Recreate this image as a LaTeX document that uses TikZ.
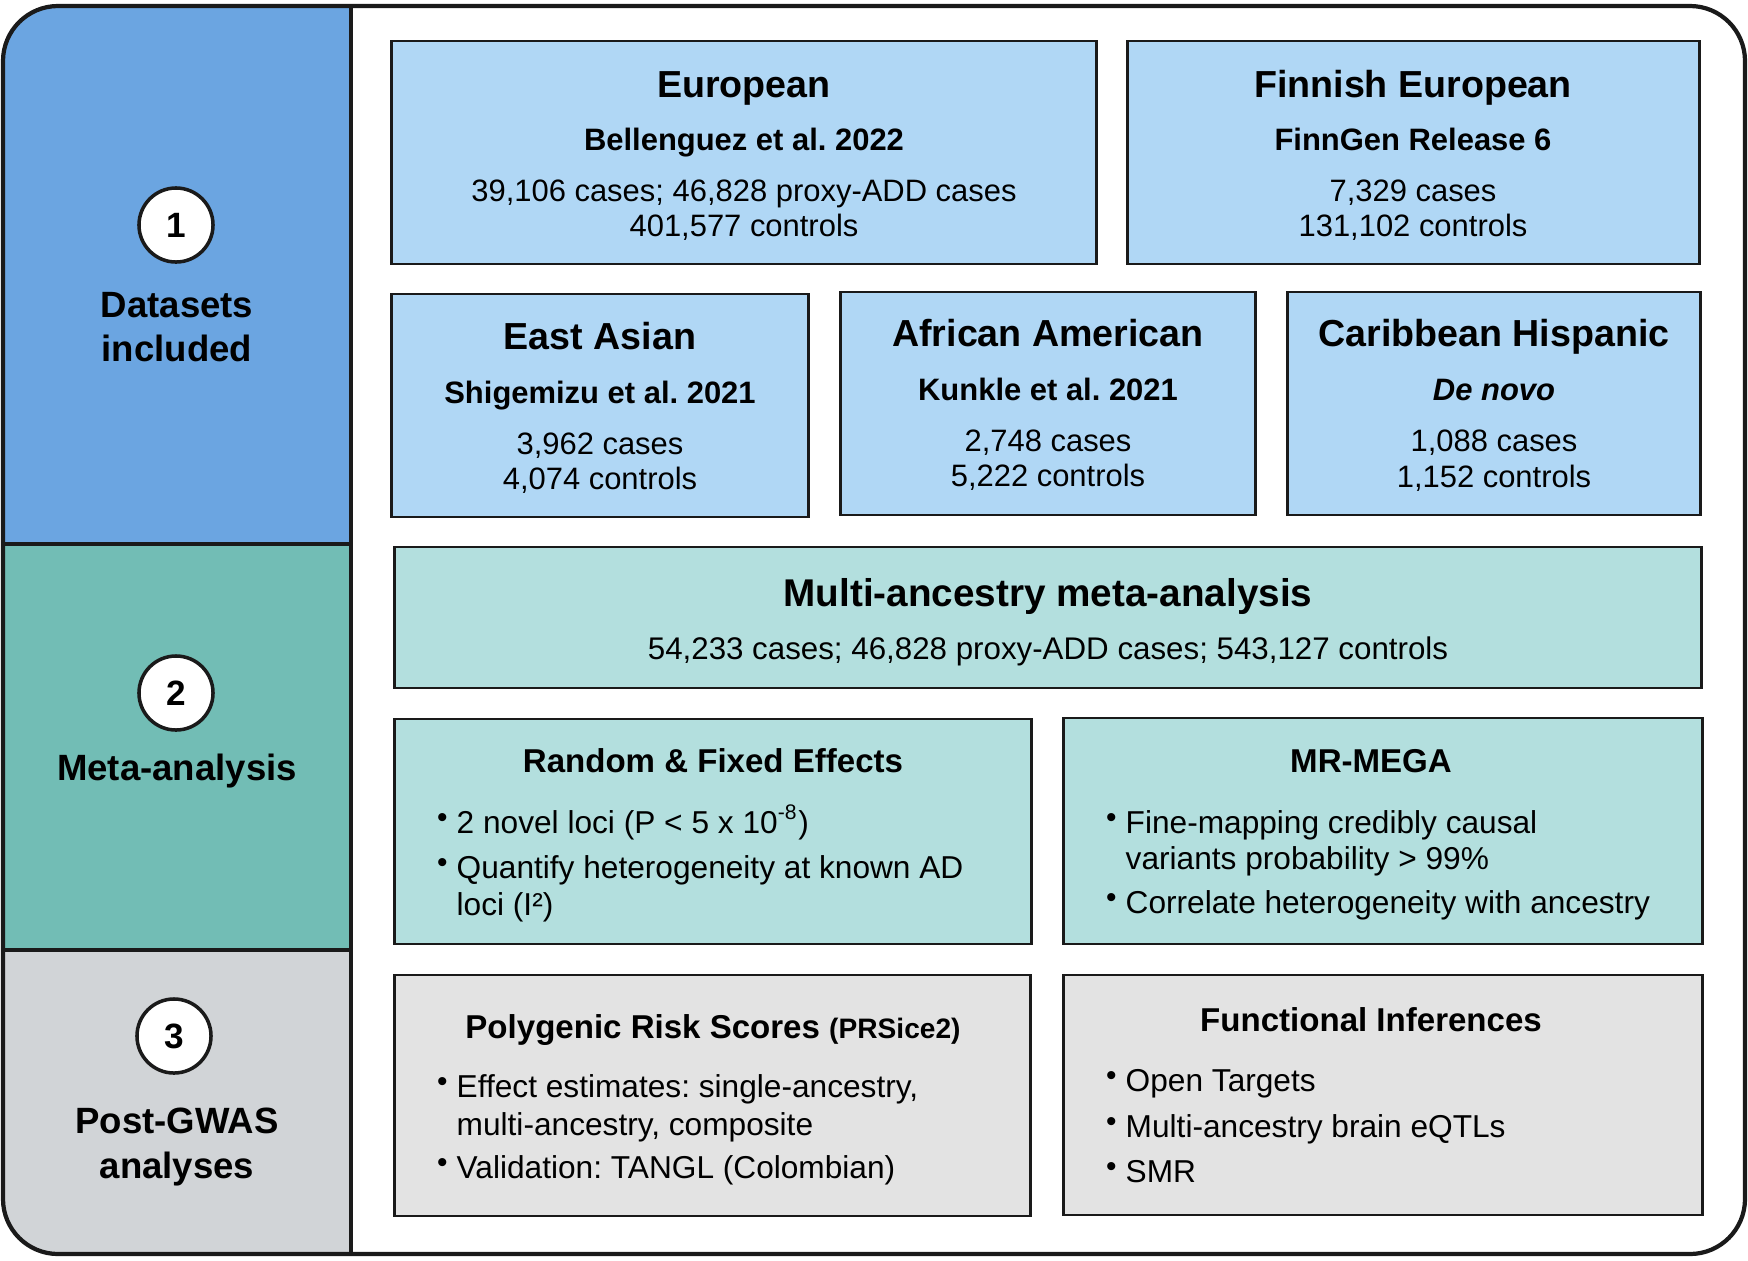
\documentclass[tikz,border=0pt]{standalone}
\usepackage{fontspec}
\setmainfont{Liberation Sans}
\usepackage{xcolor}
\usepackage{tikz}
\usetikzlibrary{positioning}

\definecolor{blueside}{HTML}{6BA5E1}
\definecolor{bluebox}{HTML}{B0D7F5}
\definecolor{tealside}{HTML}{72BDB5}
\definecolor{tealbox}{HTML}{B3DFDE}
\definecolor{grayside}{HTML}{D1D4D7}
\definecolor{graybox}{HTML}{E3E3E3}
\definecolor{edge}{HTML}{1A1A1A}

\newcommand{\bul}{\llap{\raisebox{1.7pt}{\fontsize{8.5}{8}\selectfont\textbullet}\hspace{0.9mm}}}
\frenchspacing

\begin{document}
\begin{tikzpicture}[x=0.01cm, y=-0.01cm]
          \tikzstyle{box}=[draw=edge, line width=0.8pt, rectangle, inner sep=0pt]
          \tikzstyle{ttl}=[inner sep=0pt, anchor=base, font=\bfseries\fontsize{10.7}{12}\selectfont]
          \tikzstyle{sub}=[inner sep=0pt, anchor=base, font=\bfseries\fontsize{8.8}{10}\selectfont]
          \tikzstyle{dat}=[inner sep=0pt, anchor=base, font=\fontsize{8.8}{10}\selectfont]
          \tikzstyle{mttl}=[inner sep=0pt, anchor=base, font=\bfseries\fontsize{9.4}{11}\selectfont]
          \tikzstyle{itm}=[inner sep=0pt, anchor=base west, font=\fontsize{9}{10.5}\selectfont]
          \tikzstyle{lab}=[inner sep=0pt, anchor=base, font=\bfseries\fontsize{10.4}{12}\selectfont]
          \tikzstyle{num}=[circle, draw=edge, line width=1pt, fill=white, minimum size=0.74cm,
            inner sep=0pt, font=\bfseries\fontsize{10}{12}\selectfont]
          \useasboundingbox (0,0) rectangle (1748,1260);
          \begin{scope}
            \clip[rounded corners=0.55cm] (3,6) rectangle (1745,1254);
            \fill[white] (3,6) rectangle (1745,1254);
            \fill[blueside] (3,6) rectangle (351,544);
            \fill[tealside] (3,544) rectangle (351,950);
            \fill[grayside] (3,950) rectangle (351,1254);
          \end{scope}
          \draw[edge, line width=1pt] (351,6) -- (351,1254);
          \draw[edge, line width=1pt] (3,544) -- (351,544);
          \draw[edge, line width=1pt] (3,950) -- (351,950);
          \draw[edge, line width=1.2pt, rounded corners=0.55cm] (3,6) rectangle (1745,1254);

          % datasets
          \node[box, fill=bluebox, minimum width=7.04cm, minimum height=2.23cm] (eur) at (744,152.5) {};
          \node[box, fill=bluebox, minimum width=5.71cm, minimum height=2.23cm] (fin) at (1413.5,152.5) {};
          \node[box, fill=bluebox, minimum width=4.16cm, minimum height=2.23cm] (eas) at (600,405.5) {};
          \node[box, fill=bluebox, minimum width=4.14cm, minimum height=2.23cm] (afr) at (1048,403.5) {};
          \node[box, fill=bluebox, minimum width=4.12cm, minimum height=2.23cm] (car) at (1494,403.5) {};

          \node[ttl] (eurT) at (744,97.5) {European};
          \node[sub] (eurS) at (744,150) {Bellenguez et al. 2022};
          \node[dat] (eurA) at (744,201) {39,106 cases; 46,828 proxy-ADD cases};
          \node[dat] (eurB) at (744,236) {401,577 controls};

          \node[ttl] (finT) at (1413,97.5) {Finnish European};
          \node[sub] (finS) at (1413,150) {FinnGen Release 6};
          \node[dat] (finA) at (1413,201) {7,329 cases};
          \node[dat] (finB) at (1413,236) {131,102 controls};

          \node[ttl] (easT) at (600,349.5) {East Asian};
          \node[sub] (easS) at (600,403) {Shigemizu et al. 2021};
          \node[dat] (easA) at (600,454) {3,962 cases};
          \node[dat] (easB) at (600,489) {4,074 controls};

          \node[ttl] (afrT) at (1048,346.5) {African American};
          \node[sub] (afrS) at (1048,400) {Kunkle et al. 2021};
          \node[dat] (afrA) at (1048,451) {2,748 cases};
          \node[dat] (afrB) at (1048,486) {5,222 controls};

          \node[ttl] (carT) at (1494,346.5) {Caribbean Hispanic};
          \node[sub] (carS) at (1494,400) {\itshape De novo};
          \node[dat] (carA) at (1494,451) {1,088 cases};
          \node[dat] (carB) at (1494,487) {1,152 controls};

          % meta-analysis
          \node[box, fill=tealbox, minimum width=13.06cm, minimum height=1.41cm] (mam) at (1048,617.5) {};
          \node[box, fill=tealbox, minimum width=6.36cm, minimum height=2.25cm] (rfe) at (713,831.5) {};
          \node[box, fill=tealbox, minimum width=6.38cm, minimum height=2.26cm] (mrm) at (1383,831) {};

          \node[ttl, font=\bfseries\fontsize{11}{12}\selectfont] (mamT) at (1048,606) {Multi-ancestry meta-analysis};
          \node[dat, font=\fontsize{8.9}{10}\selectfont] (mamA) at (1048,659) {54,233 cases; 46,828 proxy-ADD cases; 543,127 controls};

          \node[mttl] (rfeT) at (713,772) {Random \& Fixed Effects};
          \node[itm] (rfeA) at (456,833) {\bul 2 novel loci (P < 5 x 10\textsuperscript{-8})};
          \node[itm] (rfeB) at (456,878) {\bul Quantify heterogeneity at known AD};
          \node[itm] (rfeC) at (456,915) {loci (I²)};

          \node[mttl] (mrmT) at (1371,772) {MR-MEGA};
          \node[itm] (mrmA) at (1125,833) {\bul Fine-mapping credibly causal};
          \node[itm] (mrmB) at (1125,869) {variants probability > 99\%};
          \node[itm] (mrmC) at (1125,913) {\bul Correlate heterogeneity with ancestry};

          % post-GWAS
          \node[box, fill=graybox, minimum width=6.35cm, minimum height=2.41cm] (prs) at (712.5,1095.5) {};
          \node[box, fill=graybox, minimum width=6.38cm, minimum height=2.40cm] (fun) at (1383,1095) {};

          \node[mttl] (prsT) at (713,1038) {Polygenic Risk Scores {\fontsize{8}{10}\selectfont(PRSice2)}};
          \node[itm] (prsA) at (456,1097) {\bul Effect estimates: single-ancestry,};
          \node[itm] (prsB) at (456,1135) {multi-ancestry, composite};
          \node[itm] (prsC) at (456,1178) {\bul Validation: TANGL (Colombian)};

          \node[mttl] (funT) at (1371,1031) {Functional Inferences};
          \node[itm] (funA) at (1125,1091) {\bul Open Targets};
          \node[itm] (funB) at (1125,1137) {\bul Multi-ancestry brain eQTLs};
          \node[itm] (funC) at (1125,1182) {\bul SMR};

          % side labels
          \node[num] (n1) at (176,225) {1};
          \node[lab] (lab1a) at (177,317) {Datasets};
          \node[lab] (lab1b) at (177,361) {included};
          \node[num] (n2) at (176,693) {2};
          \node[lab] (lab2) at (177,780) {Meta-analysis};
          \node[num] (n3) at (174,1036) {3};
          \node[lab] (lab3a) at (177,1133) {Post-GWAS};
          \node[lab] (lab3b) at (177,1178) {analyses};
        \end{tikzpicture}
\end{document}
